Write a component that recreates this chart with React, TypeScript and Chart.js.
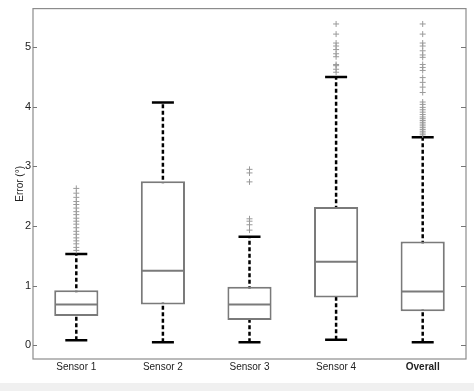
import React, { useEffect, useRef } from "react";
import { Chart, registerables } from "chart.js";

Chart.register(...registerables);

const categories = ["Sensor 1", "Sensor 2", "Sensor 3", "Sensor 4", "Overall"];
const whiskerLow = [0.08, 0.05, 0.05, 0.09, 0.05];
const q1 = [0.49, 0.68, 0.42, 0.8, 0.57];
const median = [0.68, 1.25, 0.68, 1.4, 0.9];
const q3 = [0.92, 2.75, 0.98, 2.32, 1.74];
const whiskerHigh = [1.53, 4.07, 1.82, 4.5, 3.49];

const outliersSensor1 = [2.63, 2.55, 2.48, 2.41, 2.36, 2.3, 2.24, 2.19, 2.13, 2.08, 2.03, 1.97, 1.91, 1.86, 1.8, 1.75, 1.7, 1.64, 1.59];
const outliersSensor2: number[] = [];
const outliersSensor3 = [2.95, 2.89, 2.74, 2.12, 2.08, 2.02, 1.93];
const outliersSensor4 = [5.39, 5.22, 5.07, 5.02, 4.96, 4.89, 4.84, 4.71, 4.69, 4.63, 4.58];
const outliersOverall = [5.39, 5.22, 5.07, 5.02, 4.94, 4.87, 4.83, 4.71, 4.66, 4.61, 4.49, 4.41, 4.33, 4.24, 4.08, 4.04, 3.99, 3.95, 3.91, 3.87, 3.83, 3.8, 3.77, 3.74, 3.71, 3.68, 3.65, 3.62, 3.59, 3.56, 3.53];
const outlierGroups = [outliersSensor1, outliersSensor2, outliersSensor3, outliersSensor4, outliersOverall];

const yTicks = [0, 1, 2, 3, 4, 5];
const yMin = -0.233;
const yMax = 5.648;

const FONT = "'Liberation Sans', Arial, sans-serif";

const framePlugin = {
  id: "frameTicks",
  afterDraw(chart: any) {
    const { ctx, chartArea } = chart;
    const ys = chart.scales.y;
    ctx.save();
    ctx.strokeStyle = "#8c8c8c";
    ctx.lineWidth = 1.2;
    ctx.strokeRect(chartArea.left, chartArea.top, chartArea.right - chartArea.left, chartArea.bottom - chartArea.top);
    ctx.lineWidth = 1;
    ctx.strokeStyle = "#777";
    ys.ticks.forEach((t: any) => {
      const py = Math.round(ys.getPixelForValue(t.value)) + 0.5;
      ctx.beginPath();
      ctx.moveTo(chartArea.left, py);
      ctx.lineTo(chartArea.left + 4, py);
      ctx.moveTo(chartArea.right, py);
      ctx.lineTo(chartArea.right - 5, py);
      ctx.stroke();
    });
    ctx.restore();
  },
};

export default function App() {
  const ref = useRef<HTMLCanvasElement>(null);

  useEffect(() => {
    document.body.style.margin = "0";
    const whiskerData: any[] = [];
    categories.forEach((c, i) => {
      whiskerData.push({ x: c, y: whiskerLow[i] });
      whiskerData.push({ x: c, y: whiskerHigh[i] });
      whiskerData.push({ x: c, y: null });
    });
    const capData: any[] = [];
    categories.forEach((c, i) => {
      capData.push({ x: c, y: whiskerLow[i] });
      capData.push({ x: c, y: whiskerHigh[i] });
    });
    const outlierData: any[] = [];
    outlierGroups.forEach((g, i) => g.forEach((v) => outlierData.push({ x: categories[i], y: v })));

    const chart = new Chart(ref.current!, {
      type: "bar",
      data: {
        labels: categories,
        datasets: [
          {
            type: "line",
            data: whiskerData,
            borderColor: "#000",
            borderWidth: 2.5,
            borderDash: [4, 2.5],
            pointRadius: 0,
            spanGaps: false,
            fill: false,
            order: 5,
          } as any,
          {
            type: "bar",
            data: q1.map((v, i) => [v, q3[i]]),
            backgroundColor: "#ffffff",
            borderColor: "#7a7a7a",
            borderWidth: 2,
            borderSkipped: false,
            barPercentage: 0.51,
            categoryPercentage: 1,
            order: 4,
          } as any,
          {
            type: "line",
            data: categories.map((c, i) => ({ x: c, y: median[i] })),
            showLine: false,
            pointStyle: "line",
            pointRadius: 21,
            pointBorderColor: "#7a7a7a",
            pointBorderWidth: 2,
            order: 3,
          } as any,
          {
            type: "line",
            data: capData,
            showLine: false,
            pointStyle: "line",
            pointRadius: 11,
            pointBorderColor: "#000",
            pointBorderWidth: 2.5,
            order: 2,
          } as any,
          {
            type: "line",
            data: outlierData,
            showLine: false,
            pointStyle: "cross",
            pointRadius: 3,
            pointBorderColor: "#9a9a9a",
            pointBorderWidth: 1,
            order: 1,
          } as any,
        ],
      },
      options: {
        animation: false,
        responsive: false,
        devicePixelRatio: 1,
        layout: { autoPadding: false, padding: { top: 5, right: 8, left: 0, bottom: 0 } },
        plugins: { legend: { display: false }, tooltip: { enabled: false } },
        scales: {
          x: {
            type: "category",
            offset: true,
            grid: { display: false, drawTicks: false },
            border: { display: false },
            ticks: {
              padding: 2,
              color: "#222",
              font: (ctx: any) => ({ family: FONT, size: 10, weight: ctx.index === 4 ? "bold" : "normal" }),
            },
            afterFit: (s: any) => {
              s.height = 24;
            },
          },
          y: {
            type: "linear",
            min: yMin,
            max: yMax,
            grid: { display: false, drawTicks: false },
            border: { display: false },
            afterBuildTicks: (s: any) => {
              s.ticks = yTicks.map((v) => ({ value: v }));
            },
            ticks: { padding: 2, color: "#222", font: { family: FONT, size: 11 } },
            title: {
              display: true,
              text: "Error (°)",
              color: "#222",
              font: { family: FONT, size: 10 },
              padding: { top: 14, bottom: 0 },
            },
            afterFit: (s: any) => {
              s.width = 33;
            },
          },
        },
      } as any,
      plugins: [framePlugin],
    });
    return () => chart.destroy();
  }, []);

  return (
    <div style={{ width: 474, height: 391, background: "#ffffff" }}>
      <canvas ref={ref} width={474} height={383} style={{ display: "block" }} />
      <div style={{ width: 474, height: 8, background: "#f0f0f0" }} />
    </div>
  );
}
